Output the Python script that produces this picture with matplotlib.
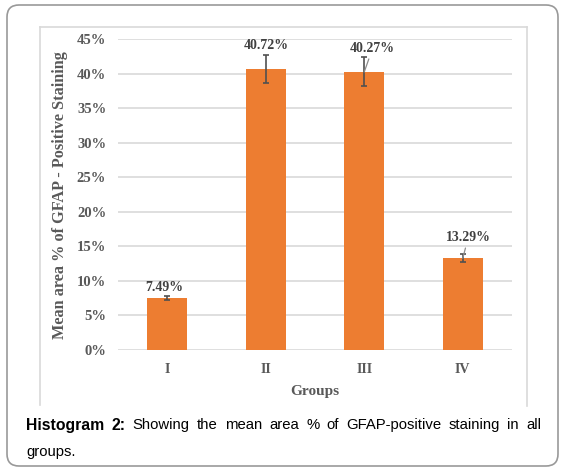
import matplotlib
matplotlib.use("Agg")
import matplotlib.pyplot as plt
from matplotlib.patches import FancyBboxPatch
from matplotlib.lines import Line2D
from matplotlib.ticker import PercentFormatter

groups = ["I", "II", "III", "IV"]
mean_area = [7.49, 40.72, 40.27, 13.29]
err = [0.3, 2.0, 2.1, 0.6]
value_labels = ["7.49%", "40.72%", "40.27%", "13.29%"]
y_ticks = [0, 5, 10, 15, 20, 25, 30, 35, 40, 45]

BAR = "#ED7D31"
GRID = "#D9D9D9"
TXT = "#595959"
SERIF = ["Liberation Serif", "DejaVu Serif"]
SANS = ["Liberation Sans", "DejaVu Sans"]

W, H = 566, 473
fig = plt.figure(figsize=(W / 100, H / 100), dpi=100)
fig.canvas.draw()
renderer = fig.canvas.get_renderer()


def size_for(text, target_px, family, weight="normal", base=10.0):
    # font size that makes `text` about target_px wide
    t = fig.text(0, 0, text, family=family, fontweight=weight, fontsize=base)
    w = t.get_window_extent(renderer).width
    t.remove()
    return base * target_px / w


tick_fs = size_for("45%", 29, SERIF, "bold")
xtick_fs = size_for("III", 16.3, SERIF, "bold")
label_fs = size_for("40.72%", 45, SERIF, "bold")
xlab_fs = size_for("Groups", 49, SERIF, "bold")
ylab_fs = size_for("Mean area % of GFAP - Positive Staining", 289, SERIF, "bold")
cap_fs = size_for("GFAP-positive", 95, SANS)
cap_bold_fs = size_for("Histogram", 78, SANS, "bold")

# outer rounded frame
frame = FancyBboxPatch((7 / 100, (H - 466) / 100), 551 / 100, 461 / 100,
                       boxstyle="round,pad=0,rounding_size=0.12",
                       transform=fig.dpi_scale_trans, facecolor="white",
                       edgecolor="#999999", linewidth=1.2, zorder=0)
fig.add_artist(frame)


def px(x, y):
    return x / W, 1 - y / H


# inner chart border, open at the bottom
for (x0, y0), (x1, y1) in [((40, 405), (40, 27)), ((40, 27), (527, 27)), ((527, 27), (527, 406))]:
    a, b = px(x0, y0)
    c, d = px(x1, y1)
    fig.add_artist(Line2D([a, c], [b, d], color=GRID, linewidth=1.2, transform=fig.transFigure))

left, right = 118 / W, 512 / W
bottom, top = 1 - 350 / H, 1 - 39.3 / H
ax = fig.add_axes([left, bottom, right - left, top - bottom])

x = range(len(groups))
ax.bar(x, mean_area, width=0.41, color=BAR, zorder=3,
       yerr=err, error_kw=dict(ecolor="#505050", elinewidth=1.2, capsize=2.2, capthick=1.2, zorder=4))

ax.set_ylim(0, 45)
ax.set_xlim(-0.5, len(groups) - 0.5)
ax.set_yticks(y_ticks)
ax.yaxis.set_major_formatter(PercentFormatter(decimals=0))
ax.set_xticks(list(x))
ax.set_xticklabels(groups)
ax.grid(axis="y", color=GRID, linewidth=1.2, zorder=0)
ax.set_axisbelow(True)
for s in ax.spines.values():
    s.set_visible(False)
ax.tick_params(axis="both", length=0, colors=TXT)
ax.tick_params(axis="y", pad=8.5)
ax.tick_params(axis="x", pad=9)
for lab in ax.get_yticklabels():
    lab.set_fontfamily(SERIF)
    lab.set_fontweight("bold")
    lab.set_fontsize(tick_fs)
for lab in ax.get_xticklabels():
    lab.set_fontfamily(SERIF)
    lab.set_fontweight("bold")
    lab.set_fontsize(xtick_fs)

ax.set_xlabel("Groups", family=SERIF, fontweight="bold", fontsize=xlab_fs, color=TXT, labelpad=7)
ax.set_ylabel("Mean area % of GFAP - Positive Staining", family=SERIF, fontweight="bold",
              fontsize=ylab_fs, color=TXT, labelpad=6)

# data labels (offsets in points from bar top)
offsets = [(-2, 8), (0, 17), (6, 17), (4, 15)]
leaders = [False, False, True, True]
for i, (v, lab) in enumerate(zip(mean_area, value_labels)):
    kw = dict(textcoords="offset points", ha="center", va="center",
              family=SERIF, fontweight="bold", fontsize=label_fs, color="#404040", zorder=5)
    if leaders[i]:
        kw["arrowprops"] = dict(arrowstyle="-", color="#8C8C8C", lw=0.9, shrinkA=1, shrinkB=0)
    ax.annotate(lab, xy=(i, v), xytext=offsets[i], **kw)

# justified caption, first line
caption_words = ["Histogram", "2:", "Showing", "the", "mean", "area", "%", "of",
                 "GFAP-positive", "staining", "in", "all"]
bold_n = 2
texts = []
for j, w in enumerate(caption_words):
    bold = j < bold_n
    t = fig.text(0, 1 - 425 / H, w, family=SANS, fontsize=cap_bold_fs if bold else cap_fs,
                 color="black", fontweight="bold" if bold else "normal", va="center", ha="left")
    texts.append(t)
widths = [t.get_window_extent(renderer).width for t in texts]
x_start, x_end = 26, 541
gap = (x_end - x_start - sum(widths)) / (len(texts) - 1)
cur = x_start
for t, wdt in zip(texts, widths):
    t.set_x(cur / W)
    cur += wdt + gap
fig.text(26 / W, 1 - 452 / H, "groups.", family=SANS, fontsize=cap_fs, color="black",
         va="center", ha="left")

fig.savefig("out.png", dpi=100)
